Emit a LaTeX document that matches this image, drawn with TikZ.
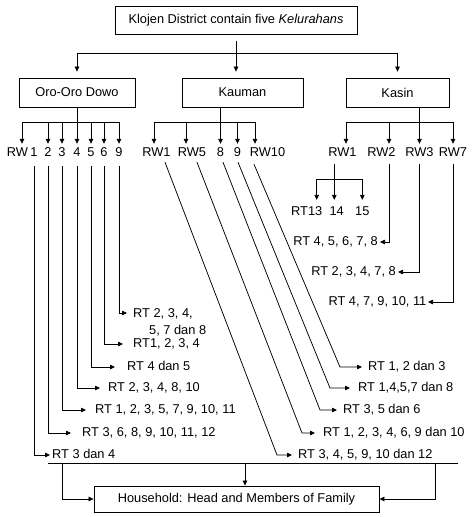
\documentclass[tikz,border=0pt]{standalone}
\usepackage{fontspec}
\setmainfont{Liberation Sans}
\usetikzlibrary{arrows.meta}

\newcommand{\rtfont}{\fontsize{12.8pt}{17pt}\selectfont}

\begin{document}
\begin{tikzpicture}[x=1pt, y=-1pt,
	box/.style  = {draw, line width=.8pt, inner sep=0pt, minimum height=29pt, font=\rtfont},
	lbl/.style  = {inner sep=1pt, text height=.72em, text depth=0pt, font=\rtfont},
	link/.style = {line width=.75pt},
	arr/.style  = {link, -{Triangle[length=5pt, width=4.5pt]}}]
	%\draw[help lines] (0,0) grid (474,517);
	\useasboundingbox (0,0) rectangle (474,517);

	% boxes
	\node[box, minimum width=242pt, minimum height=28pt] (klojen) at (236,20) {Klojen District contain five \textit{Kelurahans}};
	\node[box, minimum width=116pt] (oro) at (77,92.5) {Oro-Oro Dowo};
	\node[box, minimum width=121pt] (kau) at (242.5,92.5) {Kauman};
	\node[box, minimum width=103pt] (kas) at (397.5,92.5) {Kasin};
	\node[box, minimum width=285pt, minimum height=26pt] (house) at (236.5,499) {Household: Head and Members of Family};

	\coordinate (split) at (0,53);
	\coordinate (bar) at (0,122);
	\coordinate (subbar) at (0,179);

	\draw[arr, shorten <=7pt, shorten >=6pt] (klojen.south) -- (klojen.south |- kau.north);
	\draw[link] (oro.north |- split) -- (kas.north |- split);
	\foreach \k in {oro,kas}{\draw[arr, shorten >=6pt] (\k.north |- split) -- (\k.north);}

	% RW rows
	\foreach \n/\x in {RW/17.5, 1/34, 2/48, 3/62, 4/77, 5/91, 6/104, 9/119}{\node[lbl] (o\n) at (\x,153) {\n};}
	\foreach \n/\x in {RW1/156.5, RW5/192, 8/220.5, 9/237.5, RW10/267.5}{\node[lbl] (k\n) at (\x,153) {\n};}
	\foreach \n/\x in {RW1/342.5, RW2/381.5, RW3/419.5, RW7/453}{\node[lbl] (s\n) at (\x,153) {\n};}
	\foreach \n/\t/\x in {13/RT13/306.7, 14/14/336.7, 15/15/362.3}{\node[lbl] (r\n) at (\x,211.7) {\t};}

	\foreach \n/\dx in {oRW/4.5, o2/0, o3/0, o4/0, o5/0, o6/0, o9/0,
		kRW1/-2.5, kRW5/-6, k8/0, k9/0, kRW10/-12.5,
		sRW1/3.5, sRW2/7.5, sRW3/0, sRW7/0, r13/10, r14/-2.4, r15/0}{\coordinate (tip\n) at ([xshift=\dx pt]\n.north);}

	\draw[link] (oro.south) -- (oro.south |- bar);
	\draw[link] (kau.south -| tipk8) -- (tipk8 |- bar);
	\draw[link] (kas.south -| tipsRW3) -- (tipsRW3 |- bar);
	\draw[link] (tipoRW |- bar) -- (tipo9 |- bar);
	\draw[link] (tipkRW1 |- bar) -- (tipkRW10 |- bar);
	\draw[link] (tipsRW1 |- bar) -- (tipsRW7 |- bar);
	\foreach \n in {oRW,o2,o3,o4,o5,o6,o9,kRW1,kRW5,k8,k9,kRW10,sRW1,sRW2,sRW3,sRW7}{\draw[arr, shorten >=4.4pt] (tip\n |- bar) -- (tip\n);}

	% Oro-Oro Dowo
	\foreach \n/\x/\y/\t in {1/51/455/{RT 3 dan 4}, 2/81/433/{RT 3, 6, 8, 9, 10, 11, 12}, 3/94/410/{RT 1, 2, 3, 5, 7, 9, 10, 11},
		4/107/388/{RT 2, 3, 4, 8, 10}, 5/126/367/{RT 4 dan 5}, 6/132/344/{RT1, 2, 3, 4}}{\node[lbl, anchor=west] (ro\n) at (\x,\y) {\t};}
	\node[font=\rtfont, inner sep=1pt, anchor=north west, align=left] (ro9) at (132,307.4) {RT 2, 3, 4,\\\hspace*{16pt}5, 7 dan 8};
	\foreach \n/\s in {1/1, 2/10, 3/8, 4/7, 5/11, 6/9}{\draw[arr, shorten <=8pt, shorten >=\s pt] (o\n) |- (ro\n);}
	\draw[arr, shorten <=8pt, shorten >=5pt] (o9) |- ([yshift=-5.6pt]ro9.north west);

	% Kauman
	\foreach \n/\x/\y/\t in {RW1/297/455/{RT 3, 4, 5, 9, 10 dan 12}, RW5/322/433/{RT 1, 2, 3, 4, 6, 9 dan 10}, 8/342/410/{RT 3, 5 dan 6},
		9/357/388/{RT 1,4,5,7 dan 8}, RW10/367/367/{RT 1, 2 dan 3}}{\node[lbl, anchor=west] (rk\n) at (\x,\y) {\t};}
	\foreach \n/\sx/\sy/\c/\s in {RW1/8.5/4.4/20/5, RW5/5/4.4/20/7, 8/2.5/4.4/22/5, 9/0.5/4.4/27/7, RW10/-13.5/6.4/27/5}{
		\draw[arr, shorten >=\s pt] ([xshift=\sx pt, yshift=-\sy pt]k\n.south) -- ([xshift=-\c pt]rk\n.west) -- (rk\n.west);}

	% Kasin
	\draw[arr, shorten <=6.4pt, shorten >=7pt] (sRW1.south -| tipr14) -- (tipr14);
	\draw[link] (tipr13 |- subbar) -- (tipr15 |- subbar);
	\foreach \n in {r13,r15}{\draw[arr, shorten >=7pt] (tip\n |- subbar) -- (tip\n);}
	\foreach \n/\x/\y/\t in {RW2/379/242/{RT 4, 5, 6, 7, 8}, RW3/397/272/{RT 2, 3, 4, 7, 8}, RW7/427.5/302/{RT 4, 7, 9, 10, 11}}{\node[lbl, anchor=east] (rs\n) at (\x,\y) {\t};}
	\foreach \n/\s in {RW2/1, RW3/1, RW7/0.5}{\draw[arr, shorten <=6.4pt, shorten >=\s pt] (s\n.south -| tips\n) |- (rs\n);}

	% household
	\coordinate (hl) at (48,463);
	\coordinate (hr) at (458,463);
	\coordinate (dropl) at (62,463);
	\coordinate (dropr) at (435,463);
	\coordinate (tiph) at ([xshift=8.5pt]house.north);
	\draw[link] (hl) -- (hr);
	\draw[arr] (tiph |- hl) -- (tiph);
	\foreach \c in {dropl,dropr}{\draw[arr] (\c) |- (house);}
\end{tikzpicture}
\end{document}
